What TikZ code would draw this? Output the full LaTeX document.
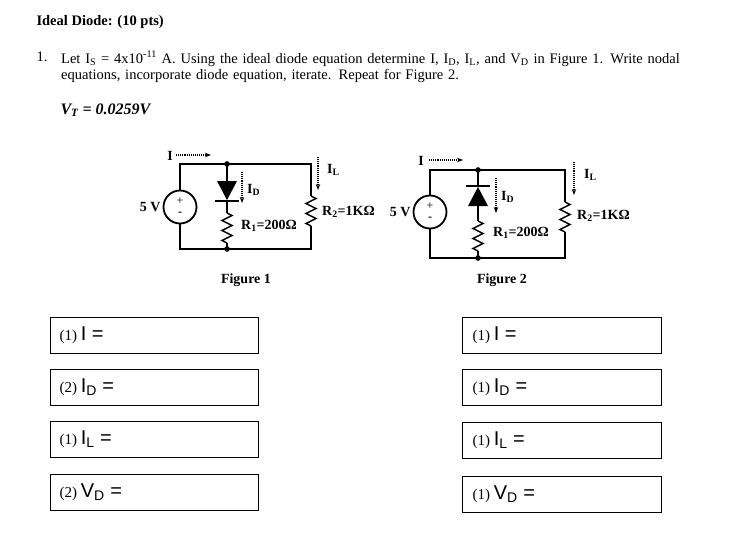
\documentclass[tikz,border=0pt]{standalone}
\usepackage{fontspec}
\setmainfont{Liberation Serif}
\newfontfamily\answerfont{Liberation Sans}
\usetikzlibrary{positioning,decorations.pathmorphing,calc,arrows.meta}
\tikzset{
  wire/.style={line width=1.8pt},
  dot/.style={circle,fill,inner sep=2pt},
  res/.style={line width=1.5pt,decorate,decoration={zigzag,amplitude=5pt,segment length=10pt}},
  flow/.style={densely dotted,line width=1.1pt,-{Stealth[length=6pt]}},
  lbl/.style={font=\bfseries\fontsize{14}{15}\selectfont,inner sep=1pt},
  pm/.style={font=\fontsize{12}{12}\selectfont,inner sep=0pt},
  abox/.style={draw,line width=0.7pt,minimum height=36pt,anchor=north west,inner sep=0pt},
  atext/.style={font=\fontsize{15}{16}\selectfont,anchor=west}
}
\newcommand{\ansI}[2]{(#1)~{\answerfont\fontsize{20}{22}\selectfont #2 =}}
\begin{document}
\begin{tikzpicture}[x=1pt,y=-1pt]
\useasboundingbox (0,0) rectangle (750,549);
% header text
\node[anchor=west,font=\bfseries\fontsize{14.5}{16}\selectfont] (title) at (33,22) {Ideal Diode: (10 pts)};
\node[anchor=north west,font=\fontsize{14.5}{16}\selectfont] (num) at (33,48) {1.};
\node[anchor=north west,text width=640pt,align=left,font=\fontsize{14.5}{16}\selectfont,inner sep=0pt] (task) at (61,51)
  {Let I\textsubscript{S} = 4x10\textsuperscript{-11} A. Using the ideal diode equation determine I, I\textsubscript{D}, I\textsubscript{L}, and V\textsubscript{D} in Figure 1. Write nodal equations, incorporate diode equation, iterate. Repeat for Figure 2.};
\node[anchor=west,font=\bfseries\itshape\fontsize{16}{18}\selectfont] (vt) at (57,110) {V\textsubscript{T} = 0.0259V};

% Figure 1
\coordinate (a1) at (180,164); \coordinate (b1) at (311,164);
\coordinate (c1) at (180,249); \coordinate (d1) at (311,249);
\coordinate (t1) at (227,164); \coordinate (u1) at (227,249);
\node[circle,draw,line width=1.8pt,minimum size=33pt,inner sep=0pt] (src1) at (180,207) {};
\node[pm] at ($(src1)+(0,-6)$) {+};
\node[pm,font=\bfseries\fontsize{12}{12}\selectfont] at ($(src1)+(0,7)$) {-};
\draw[wire] (src1.north) -- (a1) -- (b1) -- (311,196);
\draw[res] (311,196) -- (311,226);
\draw[wire] (311,226) -- (d1) -- (c1) -- (src1.south);
\draw[wire] (t1) -- (227,181);
\fill (217,181) -- (237,181) -- (227,200) -- cycle;
\draw[wire] (215,201) -- (239,201);
\draw[wire] (227,201) -- (227,213);
\draw[res] (227,213) -- (227,243);
\draw[wire] (227,243) -- (u1);
\node[dot] at (t1) {}; \node[dot] at (u1) {};
\node[lbl,left=1pt of src1] (v1) {5 V};
\coordinate (ia1) at (176,155); \coordinate (ib1) at (211,155);
\draw[flow] (ia1) -- (ib1);
\node[lbl,left=2pt of ia1,yshift=-1pt] {I};
\coordinate (la1) at (318,157); \coordinate (lb1) at (318,190);
\draw[flow] (la1) -- (lb1);
\node[lbl,anchor=west] at (326,170) {I\textsubscript{L}};
\coordinate (da1) at (242,172); \coordinate (db1) at (242,203);
\draw[flow] (da1) -- (db1);
\node[lbl,anchor=west] at (246,190) {I\textsubscript{D}};
\node[lbl,anchor=west] at (240,226) {R\textsubscript{1}=200Ω};
\node[lbl,anchor=west] at (321,212) {R\textsubscript{2}=1KΩ};
\node[lbl,font=\bfseries\fontsize{14}{15}\selectfont] (fig1) at (246,280) {Figure 1};

% Figure 2
\coordinate (a2) at (430,170); \coordinate (b2) at (565,170);
\coordinate (c2) at (430,258); \coordinate (d2) at (565,258);
\coordinate (t2) at (478,170); \coordinate (u2) at (478,258);
\node[circle,draw,line width=1.8pt,minimum size=33pt,inner sep=0pt] (src2) at (430,212) {};
\node[pm] at ($(src2)+(0,-6)$) {+};
\node[pm,font=\bfseries\fontsize{12}{12}\selectfont] at ($(src2)+(0,7)$) {-};
\draw[wire] (src2.north) -- (a2) -- (b2) -- (565,202);
\draw[res] (565,202) -- (565,232);
\draw[wire] (565,232) -- (d2) -- (c2) -- (src2.south);
\draw[wire] (t2) -- (478,186);
\draw[wire] (466,186) -- (490,186);
\fill (478,187) -- (468,206) -- (488,206) -- cycle;
\draw[wire] (478,206) -- (478,221);
\draw[res] (478,221) -- (478,251);
\draw[wire] (478,251) -- (u2);
\node[dot] at (t2) {}; \node[dot] at (u2) {};
\node[lbl,left=1pt of src2] (v2) {5 V};
\coordinate (ia2) at (429,160); \coordinate (ib2) at (463,160);
\draw[flow] (ia2) -- (ib2);
\node[lbl,left=4pt of ia2,yshift=-1pt] {I};
\coordinate (la2) at (574,162); \coordinate (lb2) at (574,195);
\draw[flow] (la2) -- (lb2);
\node[lbl,anchor=west] at (583,175) {I\textsubscript{L}};
\coordinate (da2) at (496,178); \coordinate (db2) at (496,213);
\draw[flow] (da2) -- (db2);
\node[lbl,anchor=west] at (500,197) {I\textsubscript{D}};
\node[lbl,anchor=west] at (492,233) {R\textsubscript{1}=200Ω};
\node[lbl,anchor=west] at (576,216) {R\textsubscript{2}=1KΩ};
\node[lbl,font=\bfseries\fontsize{14}{15}\selectfont] (fig2) at (502,280) {Figure 2};

% answer boxes
\foreach \y/\n/\q [count=\k] in {317/1/I, 369/2/I\textsubscript{D}, 421/1/I\textsubscript{L}, 474/2/V\textsubscript{D}} {
  \node[abox,minimum width=208pt] (lbox\k) at (50,\y) {};
  \node[atext] at ($(lbox\k.west)+(6,0)$) {\ansI{\n}{\q}};
}
\foreach \y/\q [count=\k] in {317/I, 369/I\textsubscript{D}, 422/I\textsubscript{L}, 476/V\textsubscript{D}} {
  \node[abox,minimum width=199pt] (rbox\k) at (462,\y) {};
  \node[atext] at ($(rbox\k.west)+(7,0)$) {\ansI{1}{\q}};
}
\end{tikzpicture}
\end{document}
